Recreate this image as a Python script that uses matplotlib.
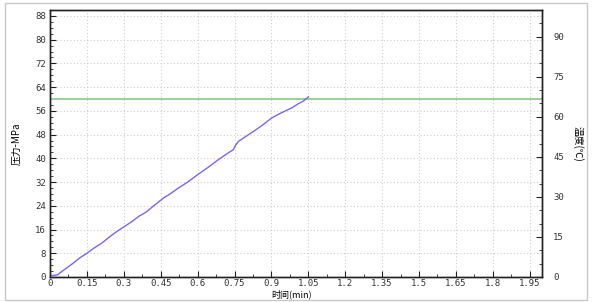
import matplotlib
matplotlib.use("Agg")
import matplotlib.pyplot as plt
from matplotlib.ticker import MultipleLocator, FixedLocator
from matplotlib.patches import Rectangle

plt.rcParams['font.family'] = ['Noto Sans CJK SC', 'DejaVu Sans']

# Pressure curve (time in min, pressure in MPa)
time_min = [0.0, 0.01, 0.03, 0.06, 0.09, 0.122, 0.15, 0.176, 0.21, 0.24, 0.271,
            0.30, 0.33, 0.36, 0.393, 0.42, 0.461, 0.49, 0.522, 0.56, 0.60,
            0.64, 0.68, 0.72, 0.745, 0.755, 0.766, 0.80, 0.84, 0.867, 0.901,
            0.93, 0.962, 0.985, 1.009, 1.03, 1.05]
pressure = [0.5, 0.5, 0.7, 2.6, 4.4, 6.5, 8.0, 9.6, 11.4, 13.4, 15.3,
            16.9, 18.5, 20.4, 22.0, 23.9, 26.6, 28.1, 30.0, 32.0, 34.5,
            36.8, 39.3, 41.6, 42.9, 44.5, 45.7, 47.6, 49.8, 51.4, 53.6,
            54.9, 56.2, 57.1, 58.4, 59.3, 60.7]
# Reference pressure line
ref_pressure = 60

x_ticks = [0, 0.15, 0.3, 0.45, 0.6, 0.75, 0.9, 1.05, 1.2, 1.35, 1.5, 1.65, 1.8, 1.95]
x_labels = ["0", "0.15", "0.3", "0.45", "0.6", "0.75", "0.9", "1.05", "1.2",
            "1.35", "1.5", "1.65", "1.8", "1.95"]
left_ticks = [0, 8, 16, 24, 32, 40, 48, 56, 64, 72, 80, 88]
right_ticks = [0, 15, 30, 45, 60, 75, 90]

fig = plt.figure(figsize=(5.92, 3.02), dpi=100)
fig.patch.set_facecolor('white')
# frame around the figure
fig.patches.append(Rectangle((0.008, 0.006), 0.984, 0.984, transform=fig.transFigure,
                             fill=False, edgecolor='#c8c8c8', linewidth=1.0))

ax = fig.add_axes([50/592, 25/302, 492/592, 267/302])
ax.set_xlim(0, 2.0)
ax.set_ylim(0, 90)

ax.plot(time_min, pressure, color='#7a66f0', linewidth=1.0, zorder=3)
ax.axhline(ref_pressure, color='#9ad29a', linewidth=1.5, zorder=2)

mono = {'family': 'DejaVu Sans Mono', 'size': 6.5, 'color': '#333333'}

ax.xaxis.set_major_locator(FixedLocator(x_ticks))
ax.set_xticklabels(x_labels, fontdict=mono)
ax.xaxis.set_minor_locator(MultipleLocator(0.075))
ax.yaxis.set_major_locator(FixedLocator(left_ticks))
ax.set_yticklabels([str(t) for t in left_ticks], fontdict=mono)
ax.yaxis.set_minor_locator(MultipleLocator(2))

ax.tick_params(which='both', direction='in', colors='#222222', labelcolor='#333333')
ax.tick_params(which='major', length=4, width=0.8, pad=3)
ax.tick_params(which='minor', length=2.5, width=0.6)
ax.tick_params(axis='x', which='major', pad=1.5)
ax.tick_params(axis='x', which='both', top=False)
ax.tick_params(axis='y', which='both', right=False)

ax.grid(True, which='major', color='#cfcfcf', linestyle=(0, (1, 2)), linewidth=0.8)

for s in ax.spines.values():
    s.set_color('#222222')
    s.set_linewidth(1.0)

ax.set_xlabel('时间(min)', fontsize=6.5)
ax.xaxis.set_label_coords(0.49, -0.046)
ax.set_ylabel('压力-MPa', fontsize=7, labelpad=10)

ax2 = ax.twinx()
ax2.set_ylim(0, 100)
ax2.yaxis.set_major_locator(FixedLocator(right_ticks))
ax2.set_yticklabels([str(t) for t in right_ticks], fontdict=mono)
ax2.yaxis.set_minor_locator(MultipleLocator(5))
ax2.tick_params(which='both', direction='in', colors='#222222', labelcolor='#333333')
ax2.tick_params(which='major', length=4, width=0.8, pad=8)
ax2.tick_params(which='minor', length=2.5, width=0.6)
ax2.set_ylabel('温度(℃)', fontsize=7, rotation=270, labelpad=14)
for s in ax2.spines.values():
    s.set_color('#222222')
    s.set_linewidth(1.0)

fig.savefig('out.png', dpi=100, facecolor='white')
